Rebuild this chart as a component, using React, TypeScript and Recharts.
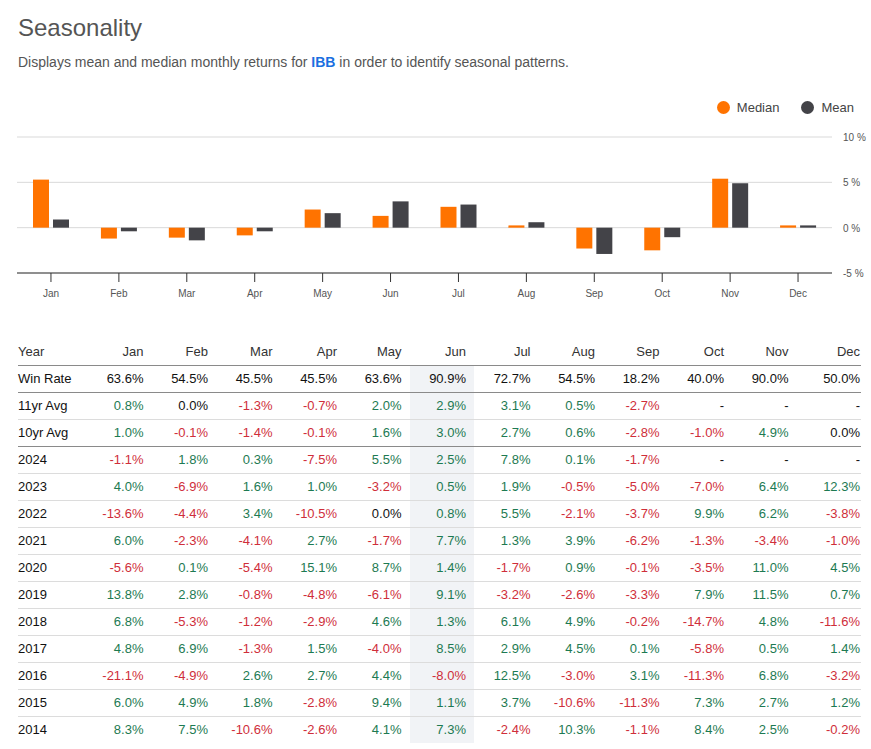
import { BarChart, Bar, CartesianGrid, XAxis, YAxis } from 'recharts';

const months = ['Jan', 'Feb', 'Mar', 'Apr', 'May', 'Jun', 'Jul', 'Aug', 'Sep', 'Oct', 'Nov', 'Dec'];
const medianReturns = [5.3, -1.2, -1.1, -0.85, 2.0, 1.3, 2.3, 0.25, -2.3, -2.5, 5.4, 0.25];
const meanReturns = [0.9, -0.4, -1.4, -0.4, 1.6, 2.9, 2.55, 0.6, -2.9, -1.05, 4.9, 0.25];
const yTicks = [-5, 0, 5, 10];

const winRate = ['63.6%', '54.5%', '45.5%', '45.5%', '63.6%', '90.9%', '72.7%', '54.5%', '18.2%', '40.0%', '90.0%', '50.0%'];
const avg11 = ['0.8%', '0.0%', '-1.3%', '-0.7%', '2.0%', '2.9%', '3.1%', '0.5%', '-2.7%', '-', '-', '-'];
const avg10 = ['1.0%', '-0.1%', '-1.4%', '-0.1%', '1.6%', '3.0%', '2.7%', '0.6%', '-2.8%', '-1.0%', '4.9%', '0.0%'];
const years = ['2024', '2023', '2022', '2021', '2020', '2019', '2018', '2017', '2016', '2015', '2014'];
const yearReturns = [
  ['-1.1%', '1.8%', '0.3%', '-7.5%', '5.5%', '2.5%', '7.8%', '0.1%', '-1.7%', '-', '-', '-'],
  ['4.0%', '-6.9%', '1.6%', '1.0%', '-3.2%', '0.5%', '1.9%', '-0.5%', '-5.0%', '-7.0%', '6.4%', '12.3%'],
  ['-13.6%', '-4.4%', '3.4%', '-10.5%', '0.0%', '0.8%', '5.5%', '-2.1%', '-3.7%', '9.9%', '6.2%', '-3.8%'],
  ['6.0%', '-2.3%', '-4.1%', '2.7%', '-1.7%', '7.7%', '1.3%', '3.9%', '-6.2%', '-1.3%', '-3.4%', '-1.0%'],
  ['-5.6%', '0.1%', '-5.4%', '15.1%', '8.7%', '1.4%', '-1.7%', '0.9%', '-0.1%', '-3.5%', '11.0%', '4.5%'],
  ['13.8%', '2.8%', '-0.8%', '-4.8%', '-6.1%', '9.1%', '-3.2%', '-2.6%', '-3.3%', '7.9%', '11.5%', '0.7%'],
  ['6.8%', '-5.3%', '-1.2%', '-2.9%', '4.6%', '1.3%', '6.1%', '4.9%', '-0.2%', '-14.7%', '4.8%', '-11.6%'],
  ['4.8%', '6.9%', '-1.3%', '1.5%', '-4.0%', '8.5%', '2.9%', '4.5%', '0.1%', '-5.8%', '0.5%', '1.4%'],
  ['-21.1%', '-4.9%', '2.6%', '2.7%', '4.4%', '-8.0%', '12.5%', '-3.0%', '3.1%', '-11.3%', '6.8%', '-3.2%'],
  ['6.0%', '4.9%', '1.8%', '-2.8%', '9.4%', '1.1%', '3.7%', '-10.6%', '-11.3%', '7.3%', '2.7%', '1.2%'],
  ['8.3%', '7.5%', '-10.6%', '-2.6%', '4.1%', '7.3%', '-2.4%', '10.3%', '-1.1%', '8.4%', '2.5%', '-0.2%'],
];

const ORANGE = '#ff7300';
const DARK = '#434348';
const GREEN = '#1d7a52';
const RED = '#cf2e3a';
const FONT = 'Arial, "Liberation Sans", sans-serif';

const chartData = months.map((m, i) => ({ month: m, median: medianReturns[i], mean: meanReturns[i] }));

function valueColor(v: string) {
  if (v === '-' || v === '0.0%') return '#111';
  return v.startsWith('-') ? RED : GREEN;
}

// plain svg text so recharts doesn't wrap "10 %" into two lines
function RightTick(props: any) {
  const { x, y, payload } = props;
  return (
    <text x={x} y={y} dy={4} fill="#555" fontSize={10} fontFamily={FONT} textAnchor="start">
      {`${payload.value} %`}
    </text>
  );
}

function ChartLegend() {
  const items = [
    { name: 'Median', color: ORANGE },
    { name: 'Mean', color: DARK },
  ];
  return (
    <div style={{ position: 'absolute', right: 17, top: 100, display: 'flex', gap: 22, fontSize: 13, color: '#444' }}>
      {items.map((it) => (
        <div key={it.name} style={{ display: 'flex', alignItems: 'center', gap: 7 }}>
          <span style={{ width: 13, height: 13, borderRadius: 7, background: it.color, display: 'inline-block' }} />
          {it.name}
        </div>
      ))}
    </div>
  );
}

type RowProps = { label: string; values: string[]; border: string; plain?: boolean };

function Row({ label, values, border, plain }: RowProps) {
  return (
    <tr style={{ height: 27, borderBottom: border }}>
      <td style={{ textAlign: 'left', color: '#111', padding: 0 }}>{label}</td>
      {values.map((v, i) => (
        <td
          key={i}
          style={{
            textAlign: 'right',
            paddingRight: i === 11 ? 1 : 8,
            paddingLeft: 0,
            color: plain ? '#111' : valueColor(v),
            background: i === 5 ? '#f1f3f6' : undefined,
          }}
        >
          {v}
        </td>
      ))}
    </tr>
  );
}

export default function App() {
  const dark = '1px solid #8a8a8a';
  const light = '1px solid #dcdcdc';
  return (
    <div style={{ position: 'absolute', left: 0, top: 0, width: 871, height: 749, background: '#fff', fontFamily: FONT, overflow: 'hidden' }}>
      <div style={{ position: 'absolute', left: 18, top: 14, fontSize: 24, color: '#555' }}>Seasonality</div>
      <div style={{ position: 'absolute', left: 18, top: 54, fontSize: 14, color: '#555' }}>
        Displays mean and median monthly returns for <b style={{ color: '#1a6fe0' }}>IBB</b> in order to identify seasonal patterns.
      </div>

      <ChartLegend />

      <div style={{ position: 'absolute', left: 0, top: 90 }}>
        <BarChart
          width={871}
          height={220}
          data={chartData}
          margin={{ top: 47, right: 11, bottom: 7, left: 17 }}
          barGap={4}
          barSize={16}
        >
          <CartesianGrid vertical={false} stroke="#d9d9d9" />
          <XAxis
            dataKey="month"
            height={30}
            axisLine={{ stroke: '#333' }}
            tickLine={{ stroke: '#333' }}
            tickSize={9}
            tickMargin={8}
            tick={{ fill: '#555', fontSize: 10, fontFamily: FONT }}
            interval={0}
          />
          <YAxis
            orientation="right"
            domain={[-5, 10]}
            ticks={yTicks}
            width={28}
            axisLine={false}
            tickLine={false}
            tickSize={0}
            tickMargin={11}
            tick={<RightTick />}
          />
          <Bar dataKey="median" name="Median" fill={ORANGE} isAnimationActive={false} />
          <Bar dataKey="mean" name="Mean" fill={DARK} isAnimationActive={false} />
        </BarChart>
      </div>

      <table
        style={{
          position: 'absolute',
          left: 18,
          top: 338,
          width: 843,
          borderCollapse: 'collapse',
          tableLayout: 'fixed',
          fontSize: 13,
          fontFamily: FONT,
        }}
      >
        <colgroup>
          <col style={{ width: 69 }} />
          {months.map((m) => (
            <col key={m} style={{ width: 64.5 }} />
          ))}
        </colgroup>
        <thead>
          <tr style={{ height: 27, borderBottom: dark }}>
            <th style={{ textAlign: 'left', fontWeight: 'normal', color: '#333', padding: 0 }}>Year</th>
            {months.map((m, i) => (
              <th key={m} style={{ textAlign: 'right', fontWeight: 'normal', color: '#333', padding: 0, paddingRight: i === 11 ? 1 : 8 }}>
                {m}
              </th>
            ))}
          </tr>
        </thead>
        <tbody>
          <Row label="Win Rate" values={winRate} border={dark} plain />
          <Row label="11yr Avg" values={avg11} border={light} />
          <Row label="10yr Avg" values={avg10} border={dark} />
          {years.map((y, i) => (
            <Row key={y} label={y} values={yearReturns[i]} border={i === years.length - 1 ? 'none' : light} />
          ))}
        </tbody>
      </table>
    </div>
  );
}
